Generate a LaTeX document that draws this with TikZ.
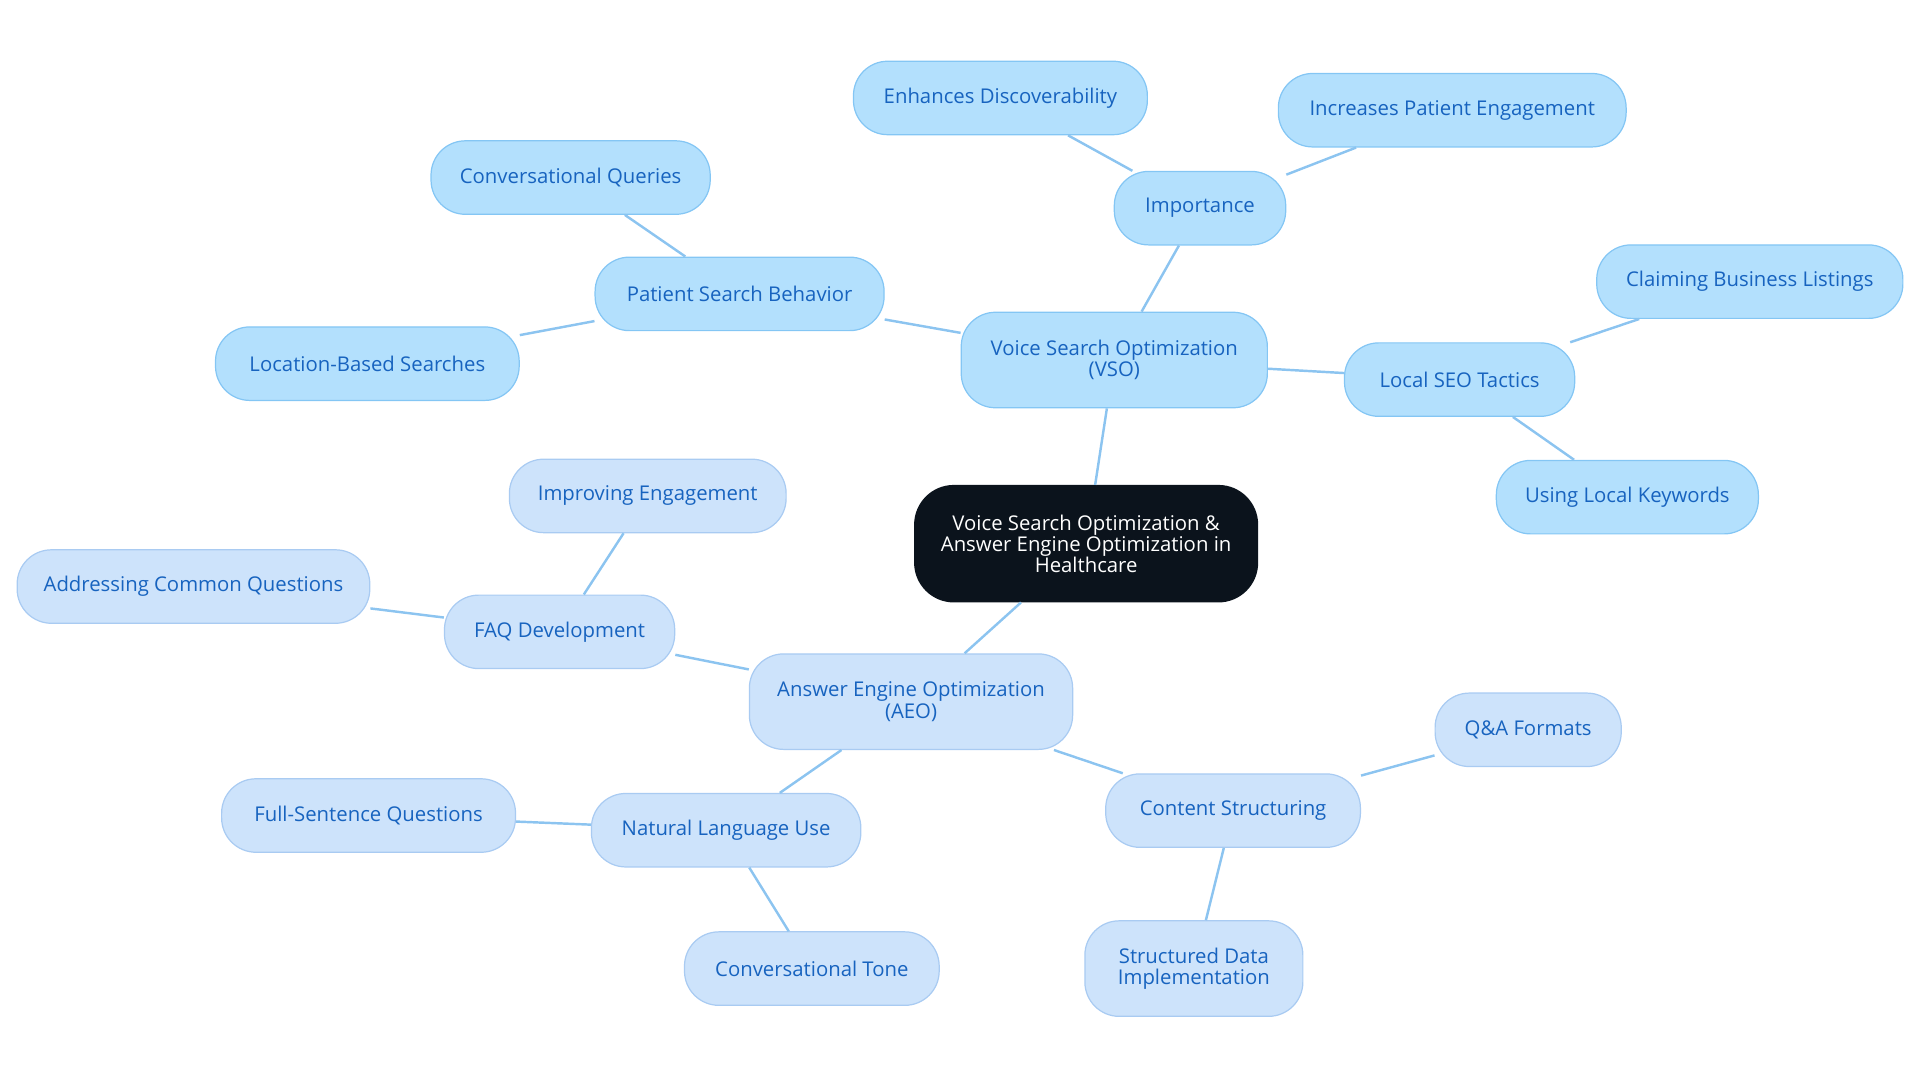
\documentclass[tikz,border=0pt]{standalone}
\usepackage{fontspec}
\setmainfont{Open Sans}
\definecolor{vfill}{HTML}{B3E0FD}
\definecolor{vline}{HTML}{84C6F4}
\definecolor{afill}{HTML}{CDE3FB}
\definecolor{aline}{HTML}{A9CBF2}
\definecolor{txt}{HTML}{1763BF}
\definecolor{edge}{HTML}{8CC4F0}
\definecolor{dark}{HTML}{0B131C}
\begin{document}
\begin{tikzpicture}[x=0.5pt,y=-0.5pt,
 base/.style={rounded corners=14pt,align=center,font=\fontsize{8.3}{8.6}\selectfont,text=txt,minimum height=30pt,line width=0.5pt,inner sep=2pt},
 vb/.style={base,fill=vfill,draw=vline},
 ab/.style={base,fill=afill,draw=aline},
 con/.style={draw=edge,line width=1pt}]
\useasboundingbox (0,0) rectangle (1568,884);
\node[base,fill=dark,draw=dark,text=white,minimum width=140pt,minimum height=47.5pt,rounded corners=16pt] (c) at (887,444) {Voice Search Optimization \&\\Answer Engine Optimization in\\Healthcare};
\node[vb,minimum width=125pt,minimum height=39pt] (vso) at (910,294) {Voice Search Optimization\\(VSO)};
\node[vb,minimum width=70pt] (imp) at (980,170) {Importance};
\node[vb,minimum width=120pt] (enh) at (817,80) {Enhances Discoverability};
\node[vb,minimum width=142pt] (inc) at (1186,90) {Increases Patient Engagement};
\node[vb,minimum width=94pt] (loc) at (1192,310) {Local SEO Tactics};
\node[vb,minimum width=125pt] (cla) at (1429,230) {Claiming Business Listings};
\node[vb,minimum width=107pt] (ulk) at (1329,406) {Using Local Keywords};
\node[vb,minimum width=118pt] (psb) at (604,240) {Patient Search Behavior};
\node[vb,minimum width=114pt] (cq) at (466,145) {Conversational Queries};
\node[vb,minimum width=124pt] (lbs) at (300,297) {Location-Based Searches};
\node[ab,minimum width=132pt,minimum height=39pt] (aeo) at (744,573) {Answer Engine Optimization\\(AEO)};
\node[ab,minimum width=94pt] (faq) at (457,516) {FAQ Development};
\node[ab,minimum width=113pt] (ie) at (529,405) {Improving Engagement};
\node[ab,minimum width=144pt] (acq) at (158,479) {Addressing Common Questions};
\node[ab,minimum width=110pt] (nlu) at (593,678) {Natural Language Use};
\node[ab,minimum width=120pt] (fsq) at (301,666) {Full-Sentence Questions};
\node[ab,minimum width=104pt] (ct) at (663,791) {Conversational Tone};
\node[ab,minimum width=104pt] (cs) at (1007,662) {Content Structuring};
\node[ab,minimum width=76pt] (qa) at (1248,596) {Q\&A Formats};
\node[ab,minimum width=89pt,minimum height=39pt] (sdi) at (975,791) {Structured Data\\Implementation};
\draw[con] (c) -- (vso);
\draw[con] (vso) -- (imp);
\draw[con] (imp) -- (enh);
\draw[con] (imp) -- (inc);
\draw[con] (vso) -- (loc);
\draw[con] (loc) -- (cla);
\draw[con] (loc) -- (ulk);
\draw[con] (vso) -- (psb);
\draw[con] (psb) -- (cq);
\draw[con] (psb) -- (lbs);
\draw[con] (c) -- (aeo);
\draw[con] (aeo) -- (faq);
\draw[con] (faq) -- (ie);
\draw[con] (faq) -- (acq);
\draw[con] (aeo) -- (nlu);
\draw[con] (nlu) -- (fsq);
\draw[con] (nlu) -- (ct);
\draw[con] (aeo) -- (cs);
\draw[con] (cs) -- (qa);
\draw[con] (cs) -- (sdi);
\end{tikzpicture}
\end{document}
